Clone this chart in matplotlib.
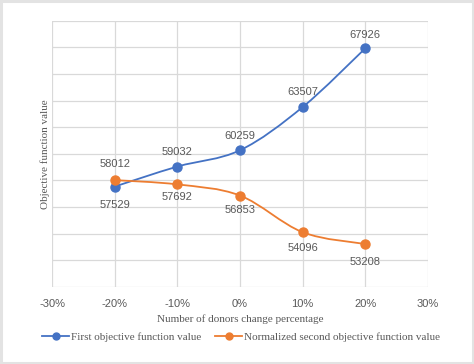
import matplotlib
matplotlib.use("Agg")
import matplotlib.pyplot as plt
from matplotlib.path import Path
from matplotlib.patches import PathPatch, Rectangle
from matplotlib.lines import Line2D

x_pct = [-20, -10, 0, 10, 20]
first_obj = [57529, 59032, 60259, 63507, 67926]
second_obj = [58012, 57692, 56853, 54096, 53208]
series_names = ["First objective function value", "Normalized second objective function value"]
x_ticks = [-30, -20, -10, 0, 10, 20, 30]
x_ticklabels = ["-30%", "-20%", "-10%", "0%", "10%", "20%", "30%"]

# label offsets (points, vertical) - style only
first_label_dy = [-9.8, 7.2, 6.8, 7.2, 6.2]
second_label_dy = [7.8, -5.5, -7.0, -7.4, -9.6]

BLUE = "#4472C4"
ORANGE = "#ED7D31"
GRID = "#D9D9D9"
TXT = "#595959"

fig = plt.figure(figsize=(4.74, 3.64), dpi=100)
fig.patch.set_facecolor("white")
fig.patches.append(Rectangle((0.002, 0.003), 0.996, 0.994, transform=fig.transFigure,
                             fill=False, edgecolor="#E3E3E3", linewidth=2.2, zorder=0))

ax = fig.add_axes([52/474, 1-286.7/364, (428-52)/474, (286.7-20.7)/364])
ax.set_xlim(-30, 30)
ax.set_ylim(50000, 70000)
ax.set_xticks(x_ticks)
ax.set_xticklabels(x_ticklabels)
ax.set_yticks(range(50000, 70001, 2000))
ax.set_yticklabels([])
ax.grid(True, color=GRID, linewidth=0.9)
ax.set_axisbelow(True)
for s in ax.spines.values():
    s.set_visible(False)
ax.tick_params(axis="both", length=0, colors=TXT, labelsize=8)
ax.tick_params(axis="x", pad=9)
for lab in ax.get_xticklabels():
    lab.set_family("Liberation Sans")
    lab.set_color(TXT)


def smooth_path(xs, ys, t=1/6):
    verts = [(xs[0], ys[0])]
    codes = [Path.MOVETO]
    n = len(xs)
    for i in range(n - 1):
        x0, y0 = (xs[i-1], ys[i-1]) if i > 0 else (xs[i], ys[i])
        x1, y1 = xs[i], ys[i]
        x2, y2 = xs[i+1], ys[i+1]
        x3, y3 = (xs[i+2], ys[i+2]) if i + 2 < n else (x2, y2)
        c1 = (x1 + (x2 - x0) * t, y1 + (y2 - y0) * t)
        c2 = (x2 - (x3 - x1) * t, y2 - (y3 - y1) * t)
        verts += [c1, c2, (x2, y2)]
        codes += [Path.CURVE4] * 3
    return Path(verts, codes)


for ys, col in [(first_obj, BLUE), (second_obj, ORANGE)]:
    ax.add_patch(PathPatch(smooth_path(x_pct, ys), facecolor="none", edgecolor=col,
                           linewidth=1.3, zorder=3))
    ax.plot(x_pct, ys, linestyle="none", marker="o", markersize=6.5, color=col, zorder=4)

lab_font = dict(fontsize=8, color=TXT, family="Liberation Sans", ha="center")
for ys, dys in [(first_obj, first_label_dy), (second_obj, second_label_dy)]:
    for xv, yv, dy in zip(x_pct, ys, dys):
        ax.annotate(f"{yv}", (xv, yv), xytext=(0, dy), textcoords="offset points",
                    va="bottom" if dy > 0 else "top", **lab_font)

fig.text(45/474, 1-153.7/364, "Objective function value", rotation=90, ha="center", va="center",
         fontsize=8, family="Liberation Serif", color=TXT)
fig.text(240/474, 1-319/364, "Number of donors change percentage", ha="center", va="center",
         fontsize=8, family="Liberation Serif", color=TXT)

handles = [Line2D([], [], color=BLUE, marker="o", markersize=5, linewidth=1.3),
           Line2D([], [], color=ORANGE, marker="o", markersize=5, linewidth=1.3)]
fig.legend(handles, series_names, loc="center", bbox_to_anchor=(241/474, 1-337/364), ncol=2,
           frameon=False, prop=dict(family="Liberation Serif", size=8), labelcolor=TXT,
           handlelength=2.4, handletextpad=0.15, columnspacing=1.3)

fig.savefig("out.png", dpi=100)
